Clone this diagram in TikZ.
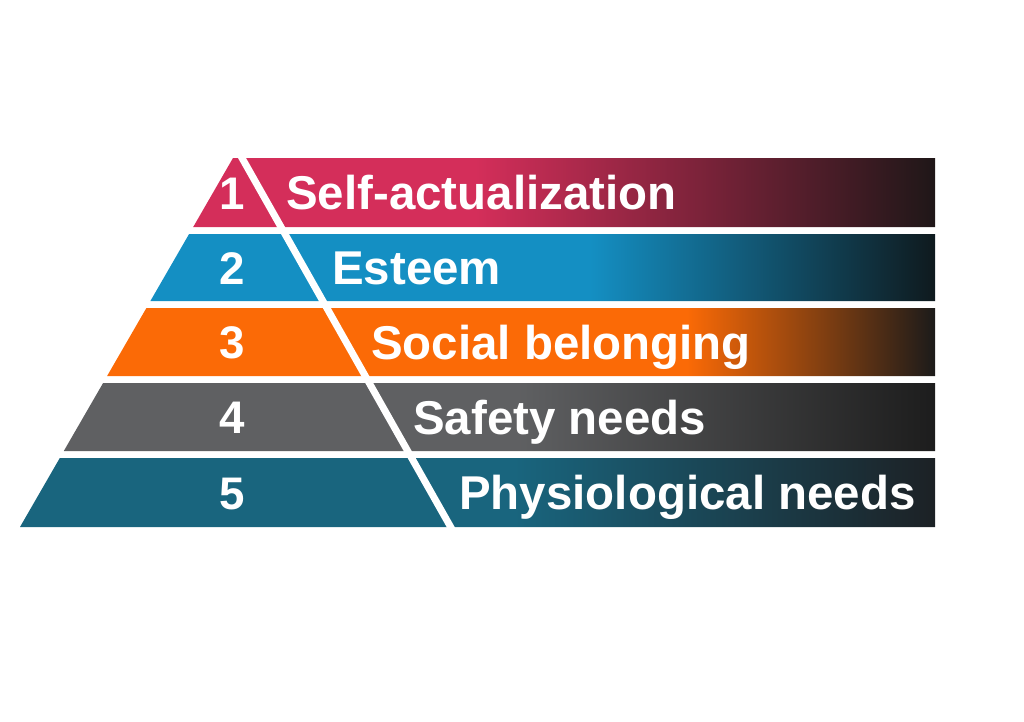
\documentclass[tikz,border=0pt]{standalone}
\usepackage{fontspec}
\setmainfont{Liberation Sans}
\definecolor{selfcol}{HTML}{D42E5A}
\definecolor{selfend}{HTML}{1F1718}
\definecolor{esteemcol}{HTML}{148FC3}
\definecolor{esteemend}{HTML}{0F1A1E}
\definecolor{socialcol}{HTML}{FB6A06}
\definecolor{socialend}{HTML}{1C1B1A}
\definecolor{safetycol}{HTML}{5F6062}
\definecolor{safetyend}{HTML}{1D1D1D}
\definecolor{physcol}{HTML}{19657E}
\definecolor{physend}{HTML}{1C2125}
% one shading per layer, solid on the left, dark at the right end
\pgfdeclarehorizontalshading{selfshade}{100bp}{color(0bp)=(selfcol); color(44bp)=(selfcol); color(75bp)=(selfend); color(100bp)=(selfend)}
\pgfdeclarehorizontalshading{esteemshade}{100bp}{color(0bp)=(esteemcol); color(53bp)=(esteemcol); color(75bp)=(esteemend); color(100bp)=(esteemend)}
\pgfdeclarehorizontalshading{socialshade}{100bp}{color(0bp)=(socialcol); color(60bp)=(socialcol); color(75bp)=(socialend); color(100bp)=(socialend)}
\pgfdeclarehorizontalshading{safetyshade}{100bp}{color(0bp)=(safetycol); color(51bp)=(safetycol); color(75bp)=(safetyend); color(100bp)=(safetyend)}
\pgfdeclarehorizontalshading{physshade}{100bp}{color(0bp)=(physcol); color(52bp)=(physcol); color(75bp)=(physend); color(100bp)=(physend)}
\begin{document}
\begin{tikzpicture}[x=0.02cm,y=-0.02cm] % pyramid of needs, pixel coordinates
            \tikzset{every node/.style={inner sep=0pt,text=white,font=\bfseries\fontsize{27}{30}\selectfont},
                     num/.style={anchor=base,font=\bfseries\fontsize{26}{30}\selectfont},
                     lbl/.style={anchor=base west}}
            \useasboundingbox (0,0) rectangle (1024,721);
            % layer 1
            \shade [shading=selfshade] (233,158) -- (935,158) -- (935,227) -- (193.2,227) -- cycle;
            % layer 2
            \shade [shading=esteemshade] (189.1,234) -- (935,234) -- (935,301) -- (150.4,301) -- cycle;
            % layer 3
            \shade [shading=socialshade] (146.4,308) -- (935,308) -- (935,376) -- (107.1,376) -- cycle;
            % layer 4
            \shade [shading=safetyshade] (103.1,383) -- (935,383) -- (935,451) -- (63.8,451) -- cycle;
            % layer 5
            \shade [shading=physshade] (59.8,458) -- (935,458) -- (935,527) -- (20,527) -- cycle;
            % the white cut
            \draw [white,line width=0.14cm] (237.5,150) -- (455.2,535);
            % numbers
            \node [num] (n1) at (232,209) {1};
            \node [num] (n2) at (232,284) {2};
            \node [num] (n3) at (232,358.5) {3};
            \node [num] (n4) at (232,433.5) {4};
            \node [num] (n5) at (232,509) {5};
            % labels
            \node [lbl] (t1) at (286,209.5) {Self-actualization};
            \node [lbl] (t2) at (332,284.5) {Esteem};
            \node [lbl] (t3) at (371,359) {Social belonging};
            \node [lbl] (t4) at (413,434) {Safety needs};
            \node [lbl] (t5) at (459,509.5) {Physiological needs};
        \end{tikzpicture}
\end{document}
